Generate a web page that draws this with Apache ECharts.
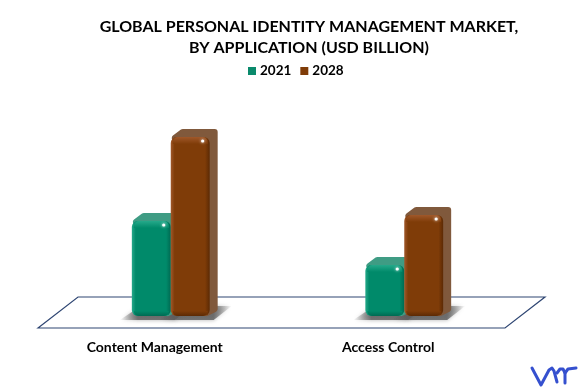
<!DOCTYPE html>
<html>
<head>
<meta charset="utf-8">
<style>
  html, body { margin: 0; padding: 0; background: #fff; }
  #main { width: 579px; height: 388px; }
</style>
<script src="https://cdn.jsdelivr.net/npm/echarts@6/dist/echarts.min.js"></script>
</head>
<body>
<div id="main"></div>
<script>
var categories = ['Content Management', 'Access Control'];
var values2021 = [4.75, 2.55];
var values2028 = [8.95, 5.05];

var FONT = 'Lato';
var DEPTH = 8;

function shade(front, side, edgeLight, edgeDark, barOffset) {
  return function (params, api) {
    var base = api.coord([api.value(0), 0]);
    var top = api.coord([api.value(0), api.value(1)]);
    var band = api.size([1, 0])[0];
    var w = band / 6;
    // the floor is drawn skewed, so bars sit to the right of the label centre
    var x = base[0] + 16 + barOffset * w;
    var y0 = base[1];
    var y1 = top[1];
    return {
      type: 'group',
      children: [
        {
          type: 'polygon',
          z2: 1,
          shape: { points: [[x - 12, y0 + 4], [x + w + 4, y0 + 4], [x + w + 22, y0 - 10], [x + w, y0 - 10], [x, y0 - 4]] },
          style: {
            fill: new echarts.graphic.LinearGradient(0, 0, 1, 0, [
              { offset: 0, color: 'rgba(90,90,90,0)' },
              { offset: 0.25, color: 'rgba(90,90,90,0.8)' },
              { offset: 0.75, color: 'rgba(90,90,90,0.8)' },
              { offset: 1, color: 'rgba(90,90,90,0)' }
            ]),
            shadowBlur: 4,
            shadowColor: 'rgba(90,90,90,0.6)'
          }
        },
        {
          type: 'polygon',
          z2: 5 + barOffset,
          shape: { points: [[x + 4, y1 + 1], [x + DEPTH + 4, y1 - DEPTH + 3], [x + w + DEPTH - 3, y1 - DEPTH + 3], [x + w + DEPTH - 3, y0 - DEPTH + 1], [x + w - 3, y0 - 3]] },
          style: { fill: side, stroke: side, lineWidth: 6, lineJoin: 'round' }
        },
        {
          type: 'rect',
          z2: 10 + barOffset,
          shape: { x: x, y: y1, width: w, height: y0 - y1, r: 6 },
          style: {
            fill: new echarts.graphic.LinearGradient(0, 0, 1, 0, [
              { offset: 0, color: edgeLight },
              { offset: 0.1, color: front },
              { offset: 0.88, color: front },
              { offset: 1, color: edgeDark }
            ])
          }
        },
        {
          type: 'rect',
          z2: 11 + barOffset,
          shape: { x: x + 2, y: y1, width: w - 4, height: 7, r: [5, 5, 0, 0] },
          style: {
            fill: new echarts.graphic.LinearGradient(0, 0, 0, 1, [
              { offset: 0, color: edgeLight },
              { offset: 1, color: front }
            ])
          }
        },
        {
          type: 'rect',
          z2: 11 + barOffset,
          shape: { x: x + 2, y: y0 - 5, width: w - 4, height: 5, r: [0, 0, 5, 5] },
          style: {
            fill: new echarts.graphic.LinearGradient(0, 0, 0, 1, [
              { offset: 0, color: front },
              { offset: 1, color: edgeDark }
            ])
          }
        },
        {
          type: 'circle',
          z2: 12 + barOffset,
          shape: { cx: x + w - 7, cy: y1 + 4, r: 1.6 },
          style: { fill: '#fff', shadowBlur: 3, shadowColor: '#fff' }
        }
      ]
    };
  };
}

function toPairs(values) {
  return values.map(function (v, i) { return [i, v]; });
}

function logoStroke(points) {
  return {
    type: 'polyline',
    z: 0,
    shape: { points: points },
    style: { fill: 'none', stroke: '#3550cf', lineWidth: 3, lineCap: 'round', lineJoin: 'round' }
  };
}

var chart = echarts.init(document.getElementById('main'), null, { renderer: 'canvas' });
chart.setOption({
  animation: false,
  title: {
    text: 'GLOBAL PERSONAL IDENTITY MANAGEMENT MARKET,\nBY APPLICATION (USD BILLION)',
    left: 304,
    top: 11,
    textAlign: 'center',
    textStyle: { fontFamily: FONT, fontWeight: 'bold', fontSize: 16, lineHeight: 21, color: '#000' }
  },
  legend: {
    top: 59,
    left: 243,
    itemWidth: 8,
    itemHeight: 8,
    itemGap: 9,
    icon: 'rect',
    data: ['2021', '2028'],
    textStyle: { fontFamily: FONT, fontWeight: 'bold', fontSize: 13.5, color: '#000', padding: [0, 0, 0, -1] }
  },
  grid: { left: 38, width: 467, top: 116, height: 200 },
  xAxis: {
    type: 'category',
    data: categories,
    axisLine: { show: false },
    axisTick: { show: false },
    axisLabel: { margin: 24, fontFamily: FONT, fontWeight: 'bold', fontSize: 14, color: '#000' }
  },
  yAxis: { type: 'value', min: 0, max: 10, show: false },
  series: [
    {
      name: '2021',
      type: 'custom',
      clip: false,
      data: toPairs(values2021),
      encode: { x: 0, y: 1 },
      itemStyle: { color: '#0a8a6c' },
      renderItem: shade('#008a6a', '#3f9c84', '#25a98a', '#006a52', -1)
    },
    {
      name: '2028',
      type: 'custom',
      clip: false,
      data: toPairs(values2028),
      encode: { x: 0, y: 1 },
      itemStyle: { color: '#7f3c08' },
      renderItem: shade('#7f3c08', '#80593c', '#a0582a', '#5c2a04', 0)
    }
  ],
  graphic: [
    {
      type: 'polygon',
      z: 0,
      shape: { points: [[38, 328], [78, 297], [545, 297], [505, 328]] },
      style: { fill: 'none', stroke: '#2f4673', lineWidth: 1.2 }
    },
    logoStroke([[532, 368], [541, 385], [549, 370], [552, 368], [554, 371], [557, 382]]),
    logoStroke([[557, 373], [560, 369], [563, 369], [565, 373], [565, 383]]),
    logoStroke([[565, 373], [568, 369], [576, 368]])
  ]
});
</script>
</body>
</html>
